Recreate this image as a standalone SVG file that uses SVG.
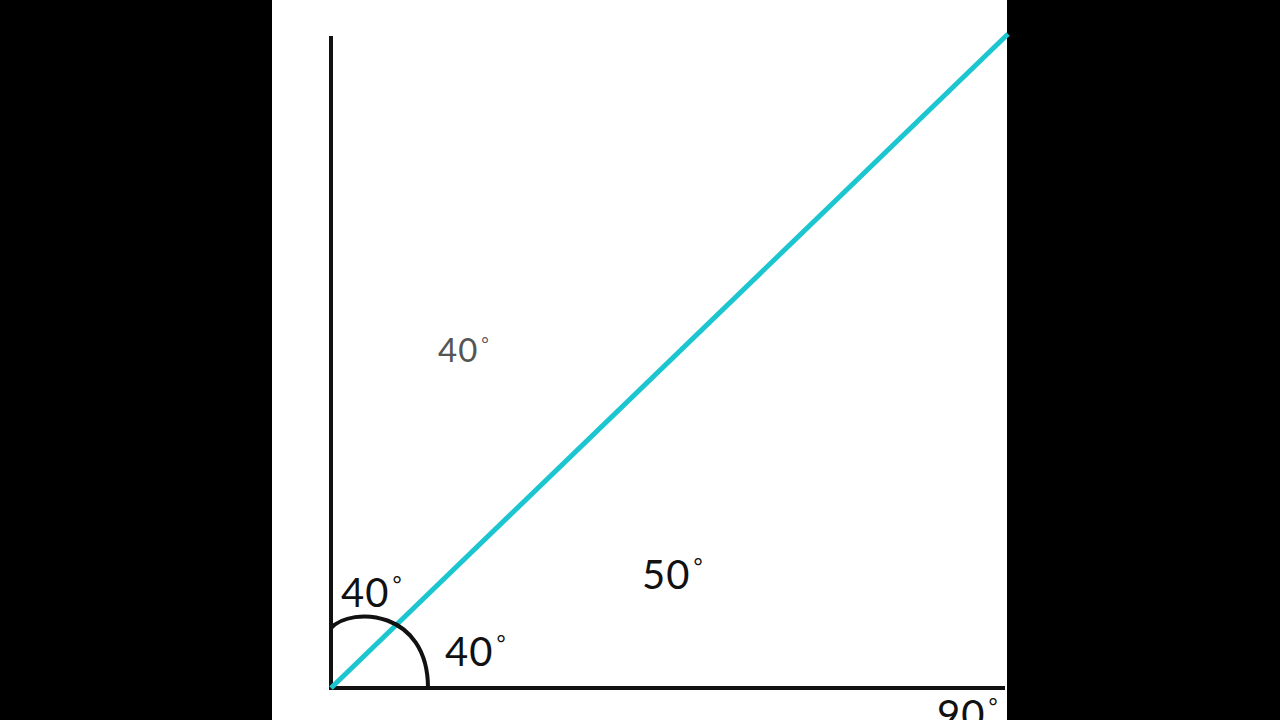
<svg xmlns="http://www.w3.org/2000/svg" width="1280" height="720" viewBox="0 0 1280 720">
<style>
.lbl{font-family:Lato,"Open Sans","Liberation Sans",sans-serif;font-weight:400;fill:#111;letter-spacing:1px}
.deg{font-size:0.55em}
</style>
<rect x="0" y="0" width="1280" height="720" fill="#000"/>
<rect x="272" y="0" width="735" height="720" fill="#fff"/>
<g id="connectors">
<line x1="331" y1="36" x2="331" y2="690" stroke="#111" stroke-width="4"/>
<line x1="329" y1="688" x2="1005" y2="688" stroke="#111" stroke-width="4"/>
<line x1="331" y1="688" x2="1008" y2="34" stroke="#1cc6d0" stroke-width="5"/>
<path d="M331,628 C352,606 428,610 428,688" fill="none" stroke="#111" stroke-width="4"/>
</g>
<g id="label-40-top"><text class="lbl" x="341" y="607" font-size="40">40<tspan class="deg" dx="3" dy="-15">°</tspan></text></g>
<g id="label-40-right"><text class="lbl" x="445" y="666" font-size="40">40<tspan class="deg" dx="3" dy="-15">°</tspan></text></g>
<g id="label-50"><text class="lbl" x="642" y="589" font-size="40">50<tspan class="deg" dx="3" dy="-15">°</tspan></text></g>
<g id="label-40-gray"><text class="lbl" x="438" y="362" font-size="33" style="fill:#555">40<tspan class="deg" dx="3" dy="-12">°</tspan></text></g>
<g id="label-90"><text class="lbl" x="937" y="729" font-size="40">90<tspan class="deg" dx="3" dy="-15">°</tspan></text></g>
</svg>
